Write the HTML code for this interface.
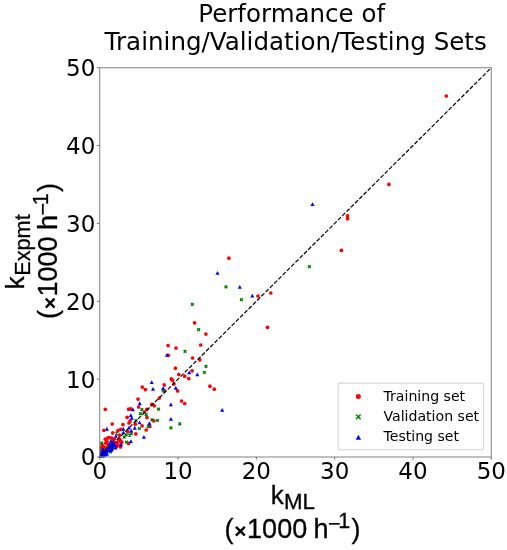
<!DOCTYPE html>
<html lang="en"><head><meta charset="utf-8"><title>Performance of Training/Validation/Testing Sets</title>
<style>html,body{margin:0;padding:0;background:#fff}body{width:507px;height:550px;overflow:hidden}svg{display:block}text{font-family:"DejaVu Sans","Liberation Sans",sans-serif;fill:#000}text.ls{font-family:"Liberation Sans",Arial,Helvetica,sans-serif;stroke:#000;stroke-width:0.3px}</style></head><body>
<svg width="507" height="550" viewBox="0 0 507 550">
<rect width="507" height="550" fill="#fff"/>
<text x="198.3" y="21.8" font-size="24.2" textLength="186.8" lengthAdjust="spacingAndGlyphs">Performance of</text>
<text x="104.6" y="49.7" font-size="24.2" textLength="382.2" lengthAdjust="spacingAndGlyphs">Training/Validation/Testing Sets</text>
<g><circle cx="446.3" cy="96.0" r="1.85" fill="#ff0000"/><circle cx="388.9" cy="184.4" r="1.85" fill="#ff0000"/><circle cx="347.5" cy="215.9" r="1.85" fill="#ff0000"/><circle cx="347.5" cy="218.7" r="1.85" fill="#ff0000"/><circle cx="341.4" cy="250.4" r="1.85" fill="#ff0000"/><circle cx="228.9" cy="258.2" r="1.85" fill="#ff0000"/><circle cx="258.0" cy="296.0" r="1.85" fill="#ff0000"/><circle cx="270.8" cy="293.0" r="1.85" fill="#ff0000"/><circle cx="267.5" cy="327.3" r="1.85" fill="#ff0000"/><circle cx="205.9" cy="334.1" r="1.85" fill="#ff0000"/><circle cx="200.7" cy="345.0" r="1.85" fill="#ff0000"/><circle cx="194.6" cy="322.8" r="1.85" fill="#ff0000"/><circle cx="176.0" cy="348.1" r="1.85" fill="#ff0000"/><circle cx="192.6" cy="358.0" r="1.85" fill="#ff0000"/><circle cx="199.8" cy="359.8" r="1.85" fill="#ff0000"/><circle cx="175.4" cy="368.2" r="1.85" fill="#ff0000"/><circle cx="192.1" cy="370.8" r="1.85" fill="#ff0000"/><circle cx="178.8" cy="374.5" r="1.85" fill="#ff0000"/><circle cx="184.7" cy="376.2" r="1.85" fill="#ff0000"/><circle cx="188.8" cy="378.6" r="1.85" fill="#ff0000"/><circle cx="171.3" cy="378.9" r="1.85" fill="#ff0000"/><circle cx="172.5" cy="380.2" r="1.85" fill="#ff0000"/><circle cx="173.9" cy="383.9" r="1.85" fill="#ff0000"/><circle cx="177.6" cy="390.9" r="1.85" fill="#ff0000"/><circle cx="209.9" cy="386.2" r="1.85" fill="#ff0000"/><circle cx="214.3" cy="389.2" r="1.85" fill="#ff0000"/><circle cx="181.5" cy="401.0" r="1.85" fill="#ff0000"/><circle cx="184.7" cy="403.5" r="1.85" fill="#ff0000"/><circle cx="168.1" cy="345.6" r="1.85" fill="#ff0000"/><circle cx="168.3" cy="355.3" r="1.85" fill="#ff0000"/><circle cx="164.2" cy="384.9" r="1.85" fill="#ff0000"/><circle cx="142.3" cy="387.1" r="1.85" fill="#ff0000"/><circle cx="145.4" cy="389.6" r="1.85" fill="#ff0000"/><circle cx="164.6" cy="391.0" r="1.85" fill="#ff0000"/><circle cx="159.3" cy="398.1" r="1.85" fill="#ff0000"/><circle cx="138.0" cy="399.1" r="1.85" fill="#ff0000"/><circle cx="151.8" cy="404.4" r="1.85" fill="#ff0000"/><circle cx="154.3" cy="405.8" r="1.85" fill="#ff0000"/><circle cx="138.6" cy="407.0" r="1.85" fill="#ff0000"/><circle cx="146.8" cy="409.3" r="1.85" fill="#ff0000"/><circle cx="144.6" cy="412.0" r="1.85" fill="#ff0000"/><circle cx="147.0" cy="417.5" r="1.85" fill="#ff0000"/><circle cx="153.8" cy="420.8" r="1.85" fill="#ff0000"/><circle cx="142.1" cy="425.8" r="1.85" fill="#ff0000"/><circle cx="149.8" cy="426.4" r="1.85" fill="#ff0000"/><circle cx="146.2" cy="430.0" r="1.85" fill="#ff0000"/><circle cx="135.3" cy="424.2" r="1.85" fill="#ff0000"/><circle cx="135.8" cy="433.9" r="1.85" fill="#ff0000"/><circle cx="105.3" cy="409.3" r="1.85" fill="#ff0000"/><circle cx="128.6" cy="409.2" r="1.85" fill="#ff0000"/><circle cx="130.9" cy="408.9" r="1.85" fill="#ff0000"/><circle cx="127.1" cy="417.3" r="1.85" fill="#ff0000"/><circle cx="130.1" cy="421.0" r="1.85" fill="#ff0000"/><circle cx="129.0" cy="423.0" r="1.85" fill="#ff0000"/><circle cx="112.2" cy="424.0" r="1.85" fill="#ff0000"/><circle cx="122.9" cy="424.6" r="1.85" fill="#ff0000"/><circle cx="103.9" cy="430.3" r="1.85" fill="#ff0000"/><circle cx="120.7" cy="429.3" r="1.85" fill="#ff0000"/><circle cx="117.9" cy="430.7" r="1.85" fill="#ff0000"/><circle cx="127.8" cy="431.7" r="1.85" fill="#ff0000"/><circle cx="112.8" cy="432.9" r="1.85" fill="#ff0000"/><circle cx="119.5" cy="435.2" r="1.85" fill="#ff0000"/><circle cx="109.2" cy="437.6" r="1.85" fill="#ff0000"/><circle cx="111.6" cy="438.0" r="1.85" fill="#ff0000"/><circle cx="105.3" cy="439.2" r="1.85" fill="#ff0000"/><circle cx="119.9" cy="439.6" r="1.85" fill="#ff0000"/><circle cx="120.7" cy="441.6" r="1.85" fill="#ff0000"/><circle cx="128.6" cy="443.5" r="1.85" fill="#ff0000"/><circle cx="105.7" cy="443.1" r="1.85" fill="#ff0000"/><circle cx="116.7" cy="443.1" r="1.85" fill="#ff0000"/><circle cx="120.5" cy="447.0" r="1.85" fill="#ff0000"/><circle cx="101.7" cy="446.7" r="1.85" fill="#ff0000"/><circle cx="104.0" cy="447.1" r="1.85" fill="#ff0000"/><circle cx="107.7" cy="438.0" r="1.85" fill="#ff0000"/><circle cx="117.1" cy="442.7" r="1.85" fill="#ff0000"/><circle cx="121.9" cy="442.1" r="1.85" fill="#ff0000"/><circle cx="118.9" cy="439.7" r="1.85" fill="#ff0000"/><circle cx="102.5" cy="445.0" r="1.85" fill="#ff0000"/><circle cx="107.0" cy="441.5" r="1.85" fill="#ff0000"/><circle cx="108.5" cy="444.5" r="1.85" fill="#ff0000"/><circle cx="112.5" cy="440.5" r="1.85" fill="#ff0000"/><circle cx="114.5" cy="439.0" r="1.85" fill="#ff0000"/><circle cx="106.5" cy="447.5" r="1.85" fill="#ff0000"/><circle cx="101.2" cy="450.5" r="1.85" fill="#ff0000"/><circle cx="103.5" cy="451.5" r="1.85" fill="#ff0000"/><circle cx="105.5" cy="449.5" r="1.85" fill="#ff0000"/><circle cx="112.5" cy="448.5" r="1.85" fill="#ff0000"/><circle cx="116.5" cy="446.5" r="1.85" fill="#ff0000"/><circle cx="101.0" cy="453.5" r="1.85" fill="#ff0000"/><circle cx="102.5" cy="455.0" r="1.85" fill="#ff0000"/><circle cx="104.5" cy="453.5" r="1.85" fill="#ff0000"/><circle cx="113.5" cy="444.0" r="1.85" fill="#ff0000"/><circle cx="118.0" cy="445.0" r="1.85" fill="#ff0000"/><circle cx="101.0" cy="448.3" r="1.85" fill="#ff0000"/><circle cx="102.6" cy="447.5" r="1.85" fill="#ff0000"/></g>
<g><path d="M308.05 265.35L310.75 268.05M308.05 268.05L310.75 265.35" stroke="#008000" stroke-width="1.45" fill="none"/><path d="M224.65 285.45L227.35 288.15M224.65 288.15L227.35 285.45" stroke="#008000" stroke-width="1.45" fill="none"/><path d="M240.05 298.35L242.75 301.05M240.05 301.05L242.75 298.35" stroke="#008000" stroke-width="1.45" fill="none"/><path d="M191.05 303.05L193.75 305.75M191.05 305.75L193.75 303.05" stroke="#008000" stroke-width="1.45" fill="none"/><path d="M197.25 328.25L199.95 330.95M197.25 330.95L199.95 328.25" stroke="#008000" stroke-width="1.45" fill="none"/><path d="M183.65 350.05L186.35 352.75M183.65 352.75L186.35 350.05" stroke="#008000" stroke-width="1.45" fill="none"/><path d="M204.65 365.05L207.35 367.75M204.65 367.75L207.35 365.05" stroke="#008000" stroke-width="1.45" fill="none"/><path d="M203.05 371.15L205.75 373.85M203.05 373.85L205.75 371.15" stroke="#008000" stroke-width="1.45" fill="none"/><path d="M178.45 422.55L181.15 425.25M178.45 425.25L181.15 422.55" stroke="#008000" stroke-width="1.45" fill="none"/><path d="M169.55 426.55L172.25 429.25M169.55 429.25L172.25 426.55" stroke="#008000" stroke-width="1.45" fill="none"/><path d="M161.85 389.45L164.55 392.15M161.85 392.15L164.55 389.45" stroke="#008000" stroke-width="1.45" fill="none"/><path d="M157.15 407.85L159.85 410.55M157.15 410.55L159.85 407.85" stroke="#008000" stroke-width="1.45" fill="none"/><path d="M140.55 408.35L143.25 411.05M140.55 411.05L143.25 408.35" stroke="#008000" stroke-width="1.45" fill="none"/><path d="M139.15 412.35L141.85 415.05M139.15 415.05L141.85 412.35" stroke="#008000" stroke-width="1.45" fill="none"/><path d="M144.85 413.25L147.55 415.95M144.85 415.95L147.55 413.25" stroke="#008000" stroke-width="1.45" fill="none"/><path d="M150.65 418.55L153.35 421.25M150.65 421.25L153.35 418.55" stroke="#008000" stroke-width="1.45" fill="none"/><path d="M156.15 419.15L158.85 421.85M156.15 421.85L158.85 419.15" stroke="#008000" stroke-width="1.45" fill="none"/><path d="M146.85 425.35L149.55 428.05M146.85 428.05L149.55 425.35" stroke="#008000" stroke-width="1.45" fill="none"/><path d="M137.95 427.15L140.65 429.85M137.95 429.85L140.65 427.15" stroke="#008000" stroke-width="1.45" fill="none"/><path d="M134.65 419.25L137.35 421.95M134.65 421.95L137.35 419.25" stroke="#008000" stroke-width="1.45" fill="none"/><path d="M115.35 431.75L118.05 434.45M115.35 434.45L118.05 431.75" stroke="#008000" stroke-width="1.45" fill="none"/><path d="M129.95 432.35L132.65 435.05M129.95 435.05L132.65 432.35" stroke="#008000" stroke-width="1.45" fill="none"/><path d="M128.35 433.75L131.05 436.45M128.35 436.45L131.05 433.75" stroke="#008000" stroke-width="1.45" fill="none"/><path d="M124.85 433.55L127.55 436.25M124.85 436.25L127.55 433.55" stroke="#008000" stroke-width="1.45" fill="none"/><path d="M122.85 435.85L125.55 438.55M122.85 438.55L125.55 435.85" stroke="#008000" stroke-width="1.45" fill="none"/><path d="M125.25 440.85L127.95 443.55M125.25 443.55L127.95 440.85" stroke="#008000" stroke-width="1.45" fill="none"/><path d="M100.25 441.85L102.95 444.55M100.25 444.55L102.95 441.85" stroke="#008000" stroke-width="1.45" fill="none"/><path d="M112.05 445.75L114.75 448.45M112.05 448.45L114.75 445.75" stroke="#008000" stroke-width="1.45" fill="none"/><path d="M109.25 450.55L111.95 453.25M109.25 453.25L111.95 450.55" stroke="#008000" stroke-width="1.45" fill="none"/><path d="M100.75 447.85L103.45 450.55M100.75 450.55L103.45 447.85" stroke="#008000" stroke-width="1.45" fill="none"/><path d="M104.65 450.65L107.35 453.35M104.65 453.35L107.35 450.65" stroke="#008000" stroke-width="1.45" fill="none"/><path d="M102.65 453.65L105.35 456.35M102.65 456.35L105.35 453.65" stroke="#008000" stroke-width="1.45" fill="none"/></g>
<g><path d="M312.50 202.25L314.55 206.04L310.45 206.04Z" fill="#0000ff"/><path d="M217.50 271.05L219.55 274.84L215.45 274.84Z" fill="#0000ff"/><path d="M239.80 284.95L241.85 288.74L237.75 288.74Z" fill="#0000ff"/><path d="M252.30 293.75L254.35 297.54L250.25 297.54Z" fill="#0000ff"/><path d="M189.20 370.55L191.25 374.34L187.15 374.34Z" fill="#0000ff"/><path d="M197.30 372.45L199.35 376.24L195.25 376.24Z" fill="#0000ff"/><path d="M175.80 385.85L177.85 389.64L173.75 389.64Z" fill="#0000ff"/><path d="M170.90 402.45L172.95 406.24L168.85 406.24Z" fill="#0000ff"/><path d="M222.20 407.95L224.25 411.74L220.15 411.74Z" fill="#0000ff"/><path d="M170.90 417.05L172.95 420.84L168.85 420.84Z" fill="#0000ff"/><path d="M167.00 352.95L169.05 356.74L164.95 356.74Z" fill="#0000ff"/><path d="M151.70 380.25L153.75 384.04L149.65 384.04Z" fill="#0000ff"/><path d="M153.00 386.95L155.05 390.74L150.95 390.74Z" fill="#0000ff"/><path d="M163.20 386.25L165.25 390.04L161.15 390.04Z" fill="#0000ff"/><path d="M139.70 401.35L141.75 405.14L137.65 405.14Z" fill="#0000ff"/><path d="M139.50 420.45L141.55 424.24L137.45 424.24Z" fill="#0000ff"/><path d="M149.40 421.25L151.45 425.04L147.35 425.04Z" fill="#0000ff"/><path d="M143.90 434.95L145.95 438.74L141.85 438.74Z" fill="#0000ff"/><path d="M132.90 407.45L134.95 411.24L130.85 411.24Z" fill="#0000ff"/><path d="M130.80 413.25L132.85 417.04L128.75 417.04Z" fill="#0000ff"/><path d="M131.70 415.85L133.75 419.64L129.65 419.64Z" fill="#0000ff"/><path d="M134.80 425.85L136.85 429.64L132.75 429.64Z" fill="#0000ff"/><path d="M106.90 426.85L108.95 430.64L104.85 430.64Z" fill="#0000ff"/><path d="M123.30 426.85L125.35 430.64L121.25 430.64Z" fill="#0000ff"/><path d="M129.00 425.75L131.05 429.54L126.95 429.54Z" fill="#0000ff"/><path d="M131.30 428.65L133.35 432.44L129.25 432.44Z" fill="#0000ff"/><path d="M123.40 430.45L125.45 434.24L121.35 434.24Z" fill="#0000ff"/><path d="M115.90 434.05L117.95 437.84L113.85 437.84Z" fill="#0000ff"/><path d="M130.90 439.15L132.95 442.94L128.85 442.94Z" fill="#0000ff"/><path d="M110.80 439.35L112.85 443.14L108.75 443.14Z" fill="#0000ff"/><path d="M113.30 439.85L115.35 443.64L111.25 443.64Z" fill="#0000ff"/><path d="M109.60 441.85L111.65 445.64L107.55 445.64Z" fill="#0000ff"/><path d="M121.00 442.35L123.05 446.14L118.95 446.14Z" fill="#0000ff"/><path d="M115.00 443.75L117.05 447.54L112.95 447.54Z" fill="#0000ff"/><path d="M110.00 444.65L112.05 448.44L107.95 448.44Z" fill="#0000ff"/><path d="M103.10 447.45L105.15 451.24L101.05 451.24Z" fill="#0000ff"/><path d="M115.60 445.65L117.65 449.44L113.55 449.44Z" fill="#0000ff"/><path d="M111.80 447.75L113.85 451.54L109.75 451.54Z" fill="#0000ff"/><path d="M109.40 445.95L111.45 449.74L107.35 449.74Z" fill="#0000ff"/><path d="M108.20 448.35L110.25 452.14L106.15 452.14Z" fill="#0000ff"/><path d="M104.70 449.55L106.75 453.34L102.65 453.34Z" fill="#0000ff"/><path d="M106.50 450.75L108.55 454.54L104.45 454.54Z" fill="#0000ff"/><path d="M101.40 450.75L103.45 454.54L99.35 454.54Z" fill="#0000ff"/><path d="M102.90 452.45L104.95 456.24L100.85 456.24Z" fill="#0000ff"/><path d="M101.10 453.35L103.15 457.14L99.05 457.14Z" fill="#0000ff"/><path d="M105.30 452.75L107.35 456.54L103.25 456.54Z" fill="#0000ff"/><path d="M100.60 453.95L102.65 457.74L98.55 457.74Z" fill="#0000ff"/><path d="M102.00 453.95L104.05 457.74L99.95 457.74Z" fill="#0000ff"/><path d="M103.80 451.15L105.85 454.94L101.75 454.94Z" fill="#0000ff"/><path d="M107.50 446.95L109.55 450.74L105.45 450.74Z" fill="#0000ff"/><path d="M112.50 443.95L114.55 447.74L110.45 447.74Z" fill="#0000ff"/><path d="M100.80 452.15L102.85 455.94L98.75 455.94Z" fill="#0000ff"/><path d="M101.90 451.85L103.95 455.64L99.85 455.64Z" fill="#0000ff"/><path d="M103.60 453.55L105.65 457.34L101.55 457.34Z" fill="#0000ff"/><path d="M104.40 450.55L106.45 454.34L102.35 454.34Z" fill="#0000ff"/><path d="M105.90 448.95L107.95 452.74L103.85 452.74Z" fill="#0000ff"/><path d="M106.90 451.85L108.95 455.64L104.85 455.64Z" fill="#0000ff"/><path d="M107.40 448.55L109.45 452.34L105.35 452.34Z" fill="#0000ff"/><path d="M108.90 447.15L110.95 450.94L106.85 450.94Z" fill="#0000ff"/><path d="M110.30 448.25L112.35 452.04L108.25 452.04Z" fill="#0000ff"/><path d="M110.60 445.55L112.65 449.34L108.55 449.34Z" fill="#0000ff"/><path d="M112.00 444.75L114.05 448.54L109.95 448.54Z" fill="#0000ff"/><path d="M113.40 442.95L115.45 446.74L111.35 446.74Z" fill="#0000ff"/><path d="M111.60 442.15L113.65 445.94L109.55 445.94Z" fill="#0000ff"/><path d="M113.90 441.45L115.95 445.24L111.85 445.24Z" fill="#0000ff"/><path d="M112.20 440.55L114.25 444.34L110.15 444.34Z" fill="#0000ff"/><path d="M103.00 449.95L105.05 453.74L100.95 453.74Z" fill="#0000ff"/><path d="M106.00 447.75L108.05 451.54L103.95 451.54Z" fill="#0000ff"/><path d="M109.20 444.15L111.25 447.94L107.15 447.94Z" fill="#0000ff"/></g>
<line x1="99.7" y1="457.0" x2="491.3" y2="67.75" stroke="#000" stroke-width="1.2" stroke-dasharray="4.2 1.8"/>
<rect x="99.7" y="67.75" width="391.60" height="389.25" fill="none" stroke="#8a8a8a" stroke-width="1.1"/>
<line x1="99.70" y1="457.0" x2="99.70" y2="459.8" stroke="#555" stroke-width="0.8"/>
<line x1="99.7" y1="457.00" x2="96.9" y2="457.00" stroke="#555" stroke-width="0.8"/>
<text x="99.70" y="479" font-size="23" text-anchor="middle">0</text>
<text x="95.4" y="465.35" font-size="23" text-anchor="end">0</text>
<line x1="178.02" y1="457.0" x2="178.02" y2="459.8" stroke="#555" stroke-width="0.8"/>
<line x1="99.7" y1="379.15" x2="96.9" y2="379.15" stroke="#555" stroke-width="0.8"/>
<text x="178.02" y="479" font-size="23" text-anchor="middle">10</text>
<text x="95.4" y="387.50" font-size="23" text-anchor="end">10</text>
<line x1="256.34" y1="457.0" x2="256.34" y2="459.8" stroke="#555" stroke-width="0.8"/>
<line x1="99.7" y1="301.30" x2="96.9" y2="301.30" stroke="#555" stroke-width="0.8"/>
<text x="256.34" y="479" font-size="23" text-anchor="middle">20</text>
<text x="95.4" y="309.65" font-size="23" text-anchor="end">20</text>
<line x1="334.66" y1="457.0" x2="334.66" y2="459.8" stroke="#555" stroke-width="0.8"/>
<line x1="99.7" y1="223.45" x2="96.9" y2="223.45" stroke="#555" stroke-width="0.8"/>
<text x="334.66" y="479" font-size="23" text-anchor="middle">30</text>
<text x="95.4" y="231.80" font-size="23" text-anchor="end">30</text>
<line x1="412.98" y1="457.0" x2="412.98" y2="459.8" stroke="#555" stroke-width="0.8"/>
<line x1="99.7" y1="145.60" x2="96.9" y2="145.60" stroke="#555" stroke-width="0.8"/>
<text x="412.98" y="479" font-size="23" text-anchor="middle">40</text>
<text x="95.4" y="153.95" font-size="23" text-anchor="end">40</text>
<line x1="491.30" y1="457.0" x2="491.30" y2="459.8" stroke="#555" stroke-width="0.8"/>
<line x1="99.7" y1="67.75" x2="96.9" y2="67.75" stroke="#555" stroke-width="0.8"/>
<text x="491.30" y="479" font-size="23" text-anchor="middle">50</text>
<text x="95.4" y="76.10" font-size="23" text-anchor="end">50</text>
<text class="ls" font-size="26" x="270.7" y="503.6">k</text><text class="ls" font-size="22.3" x="283.9" y="509">ML</text>
<g><text class="ls" font-size="27" x="224.6" y="537.8">(</text><text class="ls" font-size="21" style="stroke-width:0.9px" x="234.3" y="537.6">×</text><text class="ls" font-size="27" x="247.1" y="537.8">1000</text><text class="ls" font-size="27" x="313.6" y="537.8">h</text><text class="ls" font-size="21.5" x="328.0" y="531.2">−</text><text class="ls" font-size="21.5" x="338.3" y="528.4">1</text><text class="ls" font-size="27" x="351.6" y="537.8">)</text></g>
<g transform="translate(24 289.3) rotate(-90)"><text class="ls" font-size="26" x="0" y="0">k</text><text class="ls" font-size="21.7" x="13.5" y="5.6">Expmt</text></g>
<g transform="translate(56.9 317.3) rotate(-90)"><text class="ls" font-size="27" x="-1.7" y="0.0">(</text><text class="ls" font-size="21" style="stroke-width:0.9px" x="8.0" y="-0.2">×</text><text class="ls" font-size="27" x="20.8" y="0.0">1000</text><text class="ls" font-size="27" x="87.3" y="0.0">h</text><text class="ls" font-size="21.5" x="101.7" y="-6.6">−</text><text class="ls" font-size="21.5" x="112.0" y="-9.4">1</text><text class="ls" font-size="27" x="125.3" y="0.0">)</text></g>
<rect x="338.1" y="383.1" width="145.5" height="66.7" rx="2.5" fill="#fff" fill-opacity="0.8" stroke="#cccccc" stroke-opacity="0.8" stroke-width="1.1"/>
<circle cx="358.3" cy="396.4" r="2.5" fill="#ff0000"/>
<path d="M356.00 414.60L360.60 419.20M356.00 419.20L360.60 414.60" stroke="#008000" stroke-width="1.45" fill="none"/>
<path d="M358.40 434.70L361.10 439.69L355.70 439.69Z" fill="#0000ff"/>
<text x="383.5" y="400.6" font-size="14.1">Training set</text>
<text x="383.5" y="420.7" font-size="14.1">Validation set</text>
<text x="383.5" y="440.8" font-size="14.1">Testing set</text>
</svg></body></html>
